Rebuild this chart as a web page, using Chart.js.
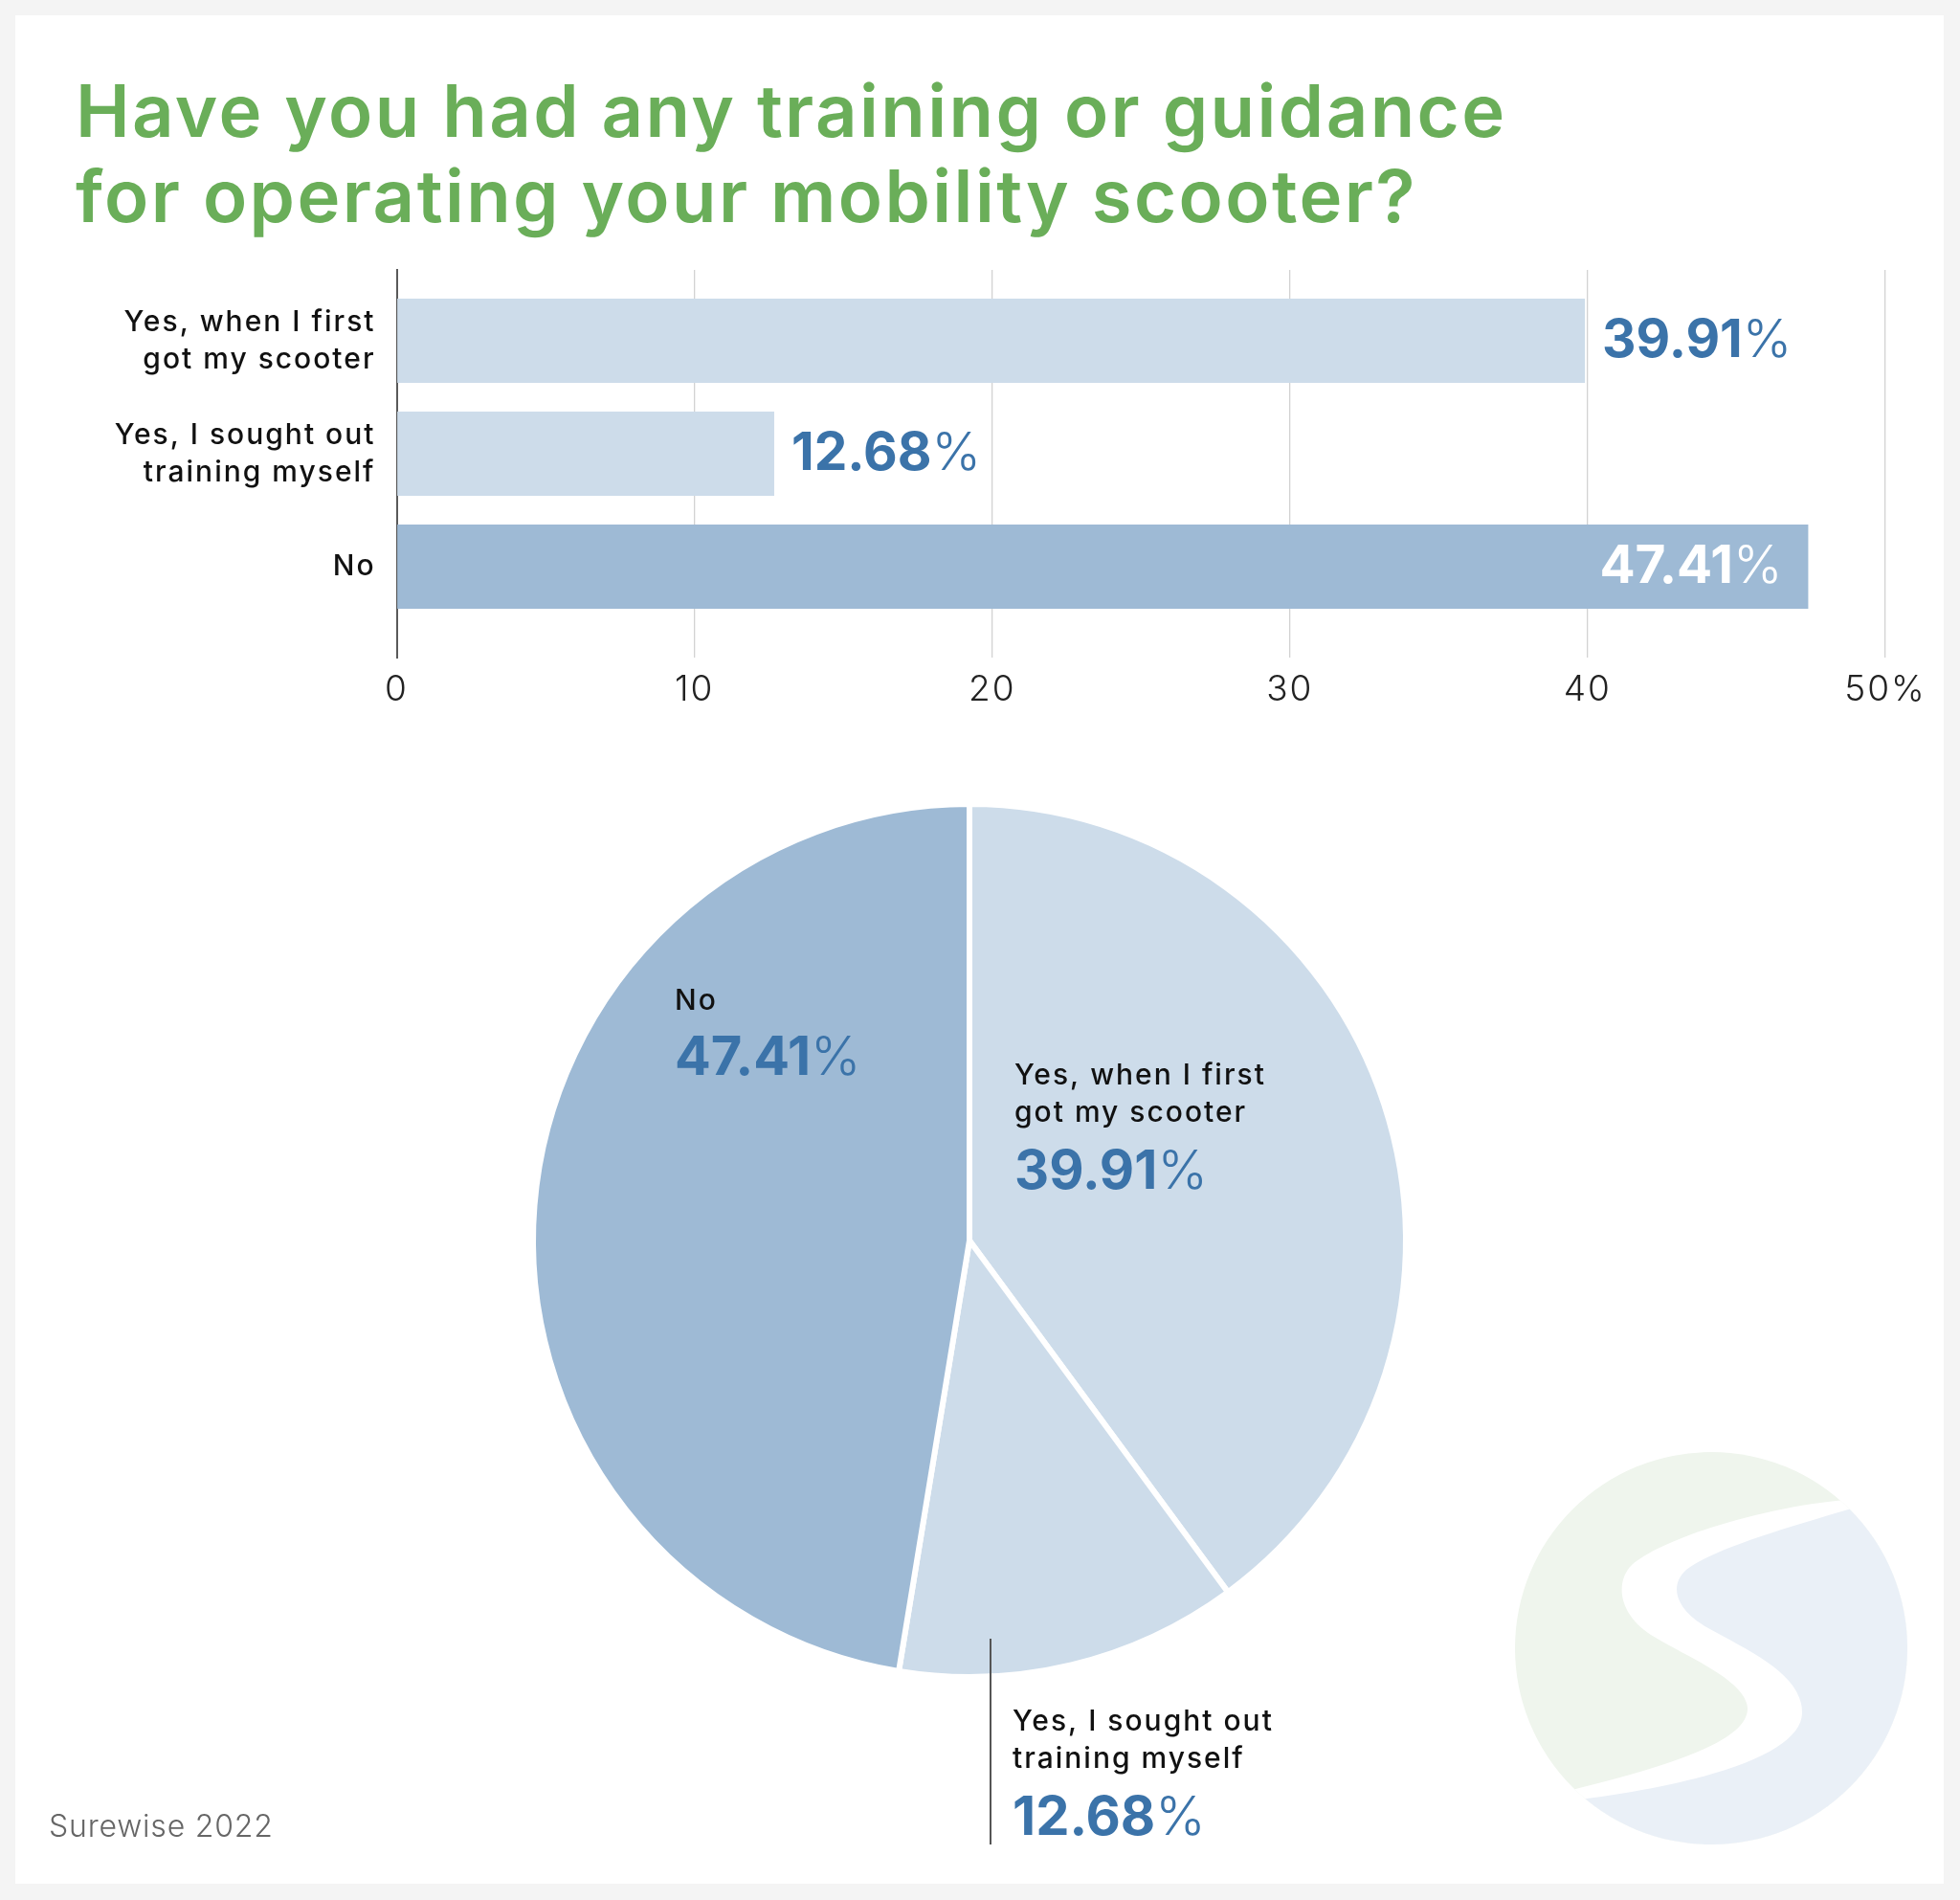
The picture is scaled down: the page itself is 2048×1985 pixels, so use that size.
<!DOCTYPE html>
<html lang="en">
<head>
<meta charset="UTF-8">
<title>Mobility scooter training</title>
<script src="https://cdn.jsdelivr.net/npm/chart.js"></script>
<style>
  html, body { margin: 0; padding: 0; }
  body { width: 2048px; height: 1985px; background: #f4f4f4; position: relative; overflow: hidden; font-family: Inter, "Open Sans", sans-serif; }
  .card { position: absolute; left: 16px; top: 16px; width: 2015px; height: 1952px; background: #fff; }
  .title { position: absolute; left: 79px; top: 71px; margin: 0; color: #6aae59; font-size: 76px; font-weight: 600; line-height: 89px; letter-spacing: 2.4px; white-space: nowrap; }
  .source { position: absolute; left: 51px; top: 1892px; color: #666; font-size: 32px; font-weight: 300; line-height: 32px; letter-spacing: 0.8px; }
  #barChart { position: absolute; left: 0; top: 270px; }
  #pieChart { position: absolute; left: 0; top: 0; }
  .logo { position: absolute; left: 1570px; top: 1500px; }
</style>
</head>
<body>
  <div class="card"></div>
  <svg class="logo" width="440" height="450" viewBox="1570 1500 440 450">
    <defs>
      <clipPath id="logoClip"><circle cx="1788" cy="1722" r="205"/></clipPath>
    </defs>
    <g clip-path="url(#logoClip)">
      <rect x="1570" y="1500" width="440" height="450" fill="#eff5ed"/>
      <path fill="#ffffff" d="M1930,1567 C1850,1573 1740,1605 1705,1635 C1688,1652 1690,1685 1725,1708 C1760,1730 1825,1755 1826,1785 C1826,1820 1740,1848 1600,1880 L1560,1990 L2100,1990 L2100,1500 L1930,1500 Z"/>
      <path fill="#eaf0f7" d="M1945,1573 C1870,1595 1790,1618 1762,1640 C1745,1655 1748,1680 1785,1701 C1830,1726 1884,1750 1883,1790 C1882,1830 1790,1866 1610,1885 L1560,1990 L2100,1990 L2100,1500 L1945,1500 Z"/>
    </g>
  </svg>
  <h1 class="title">Have you had any training or guidance<br>for operating your mobility scooter?</h1>
  <canvas id="barChart" width="2048" height="490"></canvas>
  <canvas id="pieChart" width="2048" height="1985"></canvas>
  <div class="source">Surewise 2022</div>

<script>
  // answers, top to bottom in the bars and clockwise from 12 o'clock in the pie
  const categories = ['Yes, when I first got my scooter', 'Yes, I sought out training myself', 'No'];
  const categoryLines = [['Yes, when I first', 'got my scooter'], ['Yes, I sought out', 'training myself'], ['No']];
  const shares = [39.91, 12.68, 47.41];
  const xTicks = [0, 10, 20, 30, 40, 50];
  const xTickLabels = ['0', '10', '20', '30', '40', '50%'];

  const FONT = 'Inter';
  const lightBlue = '#cddcea';
  const midBlue = '#9ebad5';
  const textBlue = '#3b73a9';
  const sliceColors = [lightBlue, lightBlue, midBlue];

  // draws "39.91" bold and "%" thin
  function drawShare(ctx, value, x, y, size, color, align) {
    const num = value.toFixed(2);
    ctx.save();
    ctx.letterSpacing = '0px';
    ctx.textBaseline = 'alphabetic';
    ctx.textAlign = 'left';
    ctx.fillStyle = color;
    ctx.font = '700 ' + size + 'px ' + FONT;
    const w1 = ctx.measureText(num).width;
    ctx.font = '300 ' + size + 'px ' + FONT;
    const w2 = ctx.measureText('%').width;
    const start = align === 'right' ? x - w1 - w2 : x;
    ctx.font = '700 ' + size + 'px ' + FONT;
    ctx.fillText(num, start, y);
    ctx.font = '300 ' + size + 'px ' + FONT;
    ctx.fillText('%', start + w1, y);
    ctx.restore();
  }

  // Montserrat is wider than anything installed, so open the text up a little
  const widerText = {
    id: 'widerText',
    beforeDraw(chart) { chart.ctx.letterSpacing = '2px'; }
  };

  const barValueLabels = {
    id: 'barValueLabels',
    afterDatasetsDraw(chart) {
      const ctx = chart.ctx;
      chart.getDatasetMeta(0).data.forEach(function (bar, i) {
        const v = shares[i];
        if (v > 45) {
          drawShare(ctx, v, bar.x - 27, bar.y + 17, 55, '#ffffff', 'right');
        } else {
          drawShare(ctx, v, bar.x + 18, bar.y + 17, 55, textBlue, 'left');
        }
      });
    }
  };

  new Chart(document.getElementById('barChart'), {
    type: 'bar',
    data: {
      datasets: [{
        data: categories.map(function (c, i) { return {x: shares[i], y: i}; }),
        backgroundColor: sliceColors,
        borderWidth: 0,
        categoryPercentage: 1,
        barPercentage: 0.746
      }]
    },
    options: {
      indexAxis: 'y',
      responsive: false,
      animation: false,
      layout: { padding: { top: 12, left: 114.5, right: 78, bottom: 0 } },
      plugins: { legend: { display: false }, tooltip: { enabled: false } },
      scales: {
        x: {
          type: 'linear',
          min: 0,
          max: 50,
          afterFit: function (s) { s.height = 73; },
          grid: { color: '#d2d2d2', lineWidth: 1.3, drawTicks: false },
          border: { display: false },
          ticks: {
            stepSize: 10,
            padding: 12,
            color: '#222',
            font: { family: FONT, size: 37, weight: 300 },
            callback: function (v) { return xTickLabels[xTicks.indexOf(v)]; }
          }
        },
        y: {
          type: 'linear',
          reverse: true,
          offset: false,
          min: -0.627,
          max: 2.805,
          bounds: 'data',
          afterFit: function (s) { s.width = 300; s.paddingTop = 0; s.paddingBottom = 0; },
          afterBuildTicks: function (s) { s.ticks = categories.map(function (c, i) { return {value: i}; }); },
          grid: { display: false, drawTicks: false, offset: false },
          border: { display: true, color: '#5a5a5a', width: 2 },
          ticks: {
            padding: 22,
            color: '#111',
            autoSkip: false,
            font: { family: FONT, size: 30, weight: 500, lineHeight: 1.3 },
            callback: function (v) { return Number.isInteger(v) ? categoryLines[v] : ''; }
          }
        }
      }
    },
    plugins: [widerText, barValueLabels]
  });

  // label anchors measured from the pie centre: name x, first name baseline, value baseline
  const pieLabelSpots = [
    { dx: 47, name: -163, value: -54 },
    { dx: 45, name: 512, value: 621 },
    { dx: -308, name: -241, value: -173 }
  ];
  const leader = { dx: 22, from: 416, to: 631 };

  const pieLabels = {
    id: 'pieLabels',
    afterDatasetsDraw(chart) {
      const ctx = chart.ctx;
      const arc = chart.getDatasetMeta(0).data[0];
      const cx = arc.x, cy = arc.y;
      ctx.save();
      ctx.strokeStyle = '#555';
      ctx.lineWidth = 2;
      ctx.beginPath();
      ctx.moveTo(cx + leader.dx, cy + leader.from);
      ctx.lineTo(cx + leader.dx, cy + leader.to);
      ctx.stroke();
      pieLabelSpots.forEach(function (spot, i) {
        ctx.fillStyle = '#111';
        ctx.font = '500 30px ' + FONT;
        ctx.letterSpacing = '2px';
        ctx.textAlign = 'left';
        ctx.textBaseline = 'alphabetic';
        categoryLines[i].forEach(function (line, k) {
          ctx.fillText(line, cx + spot.dx, cy + spot.name + k * 39);
        });
        drawShare(ctx, shares[i], cx + spot.dx, cy + spot.value, 56, textBlue, 'left');
      });
      ctx.restore();
    }
  };

  new Chart(document.getElementById('pieChart'), {
    type: 'pie',
    data: {
      labels: categories,
      datasets: [{
        data: shares,
        backgroundColor: sliceColors,
        borderColor: '#ffffff',
        borderWidth: 6
      }]
    },
    options: {
      responsive: false,
      animation: false,
      layout: { padding: { left: 554, top: 837, right: 576, bottom: 230 } },
      plugins: { legend: { display: false }, tooltip: { enabled: false } }
    },
    plugins: [pieLabels]
  });
</script>
</body>
</html>
